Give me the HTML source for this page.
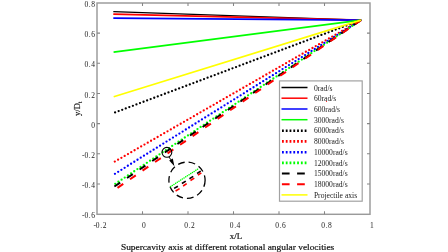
<!DOCTYPE html>
<html><head><meta charset="utf-8">
<style>
html,body{margin:0;padding:0;background:#fff;}
body{width:448px;height:252px;overflow:hidden;position:relative;}
svg{position:absolute;left:0;top:0;}
text{font-family:"Liberation Serif","Times New Roman",serif;fill:#111;stroke:#111;stroke-width:0.18px;}
.tk{font-size:7.5px;letter-spacing:0.6px;}
.tk text{stroke:none;fill:#222;}
.lg{font-size:7.6px;}
.lg text{stroke:none;fill:#1a1a1a;}
</style></head>
<body>
<svg width="448" height="252" viewBox="0 0 448 252">
<rect x="0" y="0" width="448" height="252" fill="#fff"/>
<!-- data lines -->
<g fill="none" stroke-width="1.7">
<line x1="113.3" y1="11.6" x2="361" y2="20.1" stroke="#000" stroke-width="1.4"/>
<line x1="113.3" y1="14.2" x2="361" y2="20.1" stroke="#f00"/>
<line x1="113.3" y1="18.2" x2="361" y2="20.1" stroke="#00f"/>
<line x1="113.6" y1="52.2" x2="361" y2="20.1" stroke="#0f0"/>
<line x1="115.10" y1="112.46" x2="361" y2="20.1" stroke="#000" stroke-width="2.3" stroke-dasharray="0 3.8" stroke-linecap="round"/>
<line x1="114.8" y1="161.6" x2="361" y2="20.1" stroke="#f00" stroke-width="2.3" stroke-dasharray="0 3.8" stroke-linecap="round"/>
<line x1="114.95" y1="173.82" x2="361" y2="20.1" stroke="#00f" stroke-width="2.3" stroke-dasharray="0 3.8" stroke-linecap="round"/>
<line x1="115.25" y1="183.87" x2="361" y2="20.1" stroke="#0f0" stroke-width="2.3" stroke-dasharray="0 3.8" stroke-linecap="round"/>
<line x1="114.4" y1="186.5" x2="361" y2="20.1" stroke="#000" stroke-width="2" stroke-dasharray="7 8.2"/>
<line x1="117.5" y1="187.9" x2="361" y2="20.1" stroke="#f00" stroke-width="2" stroke-dasharray="7 8.2"/>
<line x1="113.7" y1="96.8" x2="361" y2="20.1" stroke="#ff0"/>
</g>
<!-- axes box -->
<rect x="97" y="3" width="273" height="211.3" fill="none" stroke="#9a9a9a" stroke-width="1.45"/>
<!-- ticks -->
<path d="M142.5 214.3v-3M142.5 3v3M188 214.3v-3M188 3v3M233.5 214.3v-3M233.5 3v3M279 214.3v-3M279 3v3M324.5 214.3v-3M324.5 3v3M97 33.1h3M370 33.1h-3M97 63.3h3M370 63.3h-3M97 93.4h3M370 93.4h-3M97 123.6h3M370 123.6h-3M97 153.7h3M370 153.7h-3M97 183.9h3M370 183.9h-3" stroke="#858585" stroke-width="1.05" fill="none"/>
<!-- y tick labels -->
<g class="tk" text-anchor="end">
<text x="95.6" y="7.3">0.8</text>
<text x="95.6" y="37.2">0.6</text>
<text x="95.6" y="67.4">0.4</text>
<text x="95.6" y="97.5">0.2</text>
<text x="95.6" y="127.7">0</text>
<text x="95.6" y="157.8">-<tspan dx="-0.7">0.2</tspan></text>
<text x="95.6" y="188.0">-<tspan dx="-0.7">0.4</tspan></text>
<text x="95.6" y="218.1">-<tspan dx="-0.7">0.6</tspan></text>
</g>
<!-- x tick labels -->
<g class="tk" text-anchor="middle">
<text x="100.25" y="228.2">-<tspan dx="-0.7">0.2</tspan></text>
<text x="144.20" y="228.2">0</text>
<text x="189.90" y="228.2">0.2</text>
<text x="235.40" y="228.2">0.4</text>
<text x="280.90" y="228.2">0.6</text>
<text x="326.90" y="228.2">0.8</text>
<text x="372.10" y="228.2">1</text>
</g>
<text x="236" y="238.8" text-anchor="middle" style="font-size:8.9px">x/L</text>
<text transform="translate(80.2 108.7) rotate(-90)" text-anchor="middle" style="font-size:8.5px">y/D<tspan style="font-size:6px" dy="1.3">t</tspan></text>
<text transform="translate(120.9 249.9) scale(1.095 1)" style="font-size:8.6px">Supercavity axis at different rotational angular velocities</text>

<!-- zoom annotation -->
<circle cx="166.9" cy="152.3" r="4.9" fill="none" stroke="#000" stroke-width="1.1"/>
<line x1="168.9" y1="156.9" x2="170.9" y2="159.8" stroke="#000" stroke-width="1"/>
<path d="M169.2 160.5 L172.8 158.6 L174.4 166.2 Z" fill="#000"/>
<circle cx="187" cy="180.2" r="18.1" fill="none" stroke="#000" stroke-width="1.3" stroke-dasharray="6.73 4.07"/>
<line x1="170.6" y1="186.6" x2="199" y2="168.3" stroke="#0f0" stroke-width="1.6" stroke-dasharray="0 2" stroke-linecap="round"/>
<g stroke="#000" stroke-width="1.6">
<line x1="174.1" y1="188.4" x2="177.9" y2="186.2"/>
<line x1="181.9" y1="183.5" x2="185.8" y2="181.1"/>
<line x1="189.4" y1="178.8" x2="193.2" y2="176.4"/>
<line x1="197.1" y1="173.5" x2="200.7" y2="171.1"/>
</g>
<g stroke="#f00" stroke-width="1.6">
<line x1="175.6" y1="191.0" x2="179.6" y2="188.6"/>
<line x1="183.1" y1="186.0" x2="186.7" y2="183.6"/>
<line x1="190.5" y1="180.5" x2="194.3" y2="178.1"/>
<line x1="197.9" y1="175.2" x2="201.3" y2="172.8"/>
</g>

<!-- legend -->
<rect x="279.5" y="80.9" width="82.7" height="120.3" fill="#fff" stroke="#a2a2a2" stroke-width="1.2"/>
<g fill="none">
<line x1="281.5" y1="87.5" x2="307.5" y2="87.5" stroke="#000" stroke-width="1.5"/>
<line x1="281.5" y1="98.2" x2="307.5" y2="98.2" stroke="#f00" stroke-width="1.5"/>
<line x1="281.5" y1="109" x2="307.5" y2="109" stroke="#00f" stroke-width="1.5"/>
<line x1="281.5" y1="119.7" x2="307.5" y2="119.7" stroke="#0f0" stroke-width="1.5"/>
<line x1="282.0" y1="130.7" x2="307" y2="130.7" stroke="#000" stroke-width="2.6" stroke-dasharray="1.8 1.98"/>
<line x1="282.0" y1="141.4" x2="307" y2="141.4" stroke="#f00" stroke-width="2.6" stroke-dasharray="1.8 1.98"/>
<line x1="282.0" y1="152.2" x2="307" y2="152.2" stroke="#00f" stroke-width="2.6" stroke-dasharray="1.8 1.98"/>
<line x1="282.0" y1="162.9" x2="307" y2="162.9" stroke="#0f0" stroke-width="2.6" stroke-dasharray="1.8 1.98"/>
<line x1="281.9" y1="173.4" x2="305" y2="173.4" stroke="#000" stroke-width="2" stroke-dasharray="7.7 7.5"/>
<line x1="281.9" y1="184.3" x2="305" y2="184.3" stroke="#f00" stroke-width="2" stroke-dasharray="7.7 7.5"/>
<line x1="281.5" y1="194.9" x2="307.5" y2="194.9" stroke="#ff0" stroke-width="1.5"/>
</g>
<g class="lg">
<text x="313.9" y="90.5">0rad/s</text>
<text x="313.9" y="101.2">60rad/s</text>
<text x="313.9" y="112">600rad/s</text>
<text x="313.9" y="122.7">3000rad/s</text>
<text x="313.9" y="133.4">6000rad/s</text>
<text x="313.9" y="144.2">8000rad/s</text>
<text x="313.9" y="154.9">10000rad/s</text>
<text x="313.9" y="165.7">12000rad/s</text>
<text x="313.9" y="176.4">15000rad/s</text>
<text x="313.9" y="187.1">18000rad/s</text>
<text x="313.9" y="197.9">Projectile axis</text>
</g>
<rect x="326" y="101" width="1" height="1" fill="#f33"/>
</svg>
</body></html>
